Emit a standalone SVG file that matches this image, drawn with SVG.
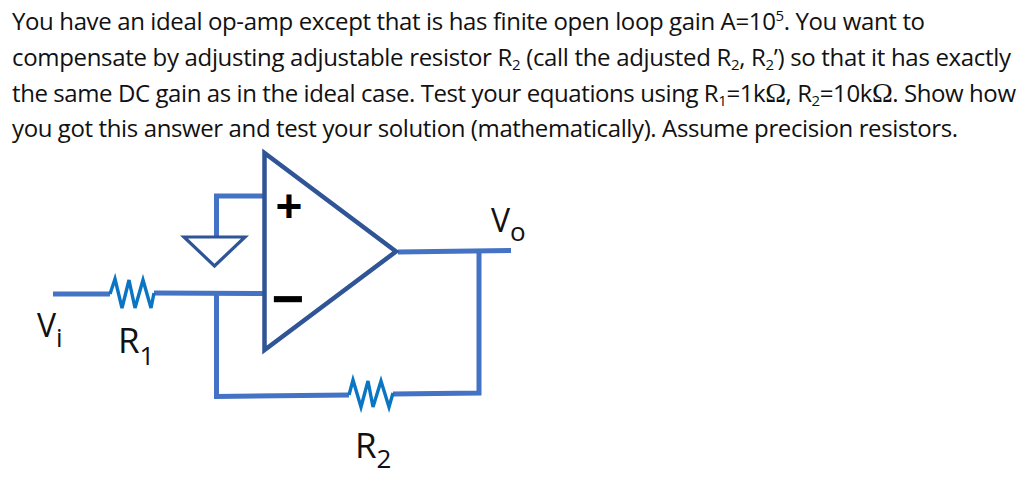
<svg xmlns="http://www.w3.org/2000/svg" width="1024" height="479" viewBox="0 0 1024 479">
<style>
text{font-family:"Open Sans","Lato","Liberation Sans",sans-serif;fill:#111;font-variant-ligatures:none}
.q{font-size:24px}
.l{font-size:35px}
.v{font-size:32px}
.s{font-size:26px}
.z{font-size:15px}
.om{font-family:"Liberation Serif",serif;font-size:28px}
.w{fill:none;stroke:#4472c4;stroke-width:5;stroke-linecap:butt;stroke-linejoin:miter}
.r{fill:none;stroke:#0a75c2;stroke-width:3.4;stroke-linejoin:miter}
.o{fill:none;stroke:#2f5597;stroke-width:4.5;stroke-linejoin:miter}
.g{fill:none;stroke:#2f5597;stroke-width:3.2;stroke-linejoin:miter}
.sign{font-family:"Liberation Sans",sans-serif;font-weight:bold;fill:#000}
</style>
<rect width="1024" height="479" fill="#fff"/>
<g id="question">
<text class="q" x="12" y="30" textLength="913" lengthAdjust="spacing">You have an ideal op-amp except that is has finite open loop gain A=10<tspan class="z" dy="-9">5</tspan><tspan dy="9">. You want to</tspan></text>
<text class="q" x="12" y="66" textLength="999" lengthAdjust="spacing">compensate by adjusting adjustable resistor R<tspan class="z" dy="4">2</tspan><tspan dy="-4"> (call the adjusted R</tspan><tspan class="z" dy="4">2</tspan><tspan dy="-4">, R</tspan><tspan class="z" dy="4">2</tspan><tspan dy="-4">’) so that it has exactly</tspan></text>
<text class="q" x="12" y="102" textLength="1004" lengthAdjust="spacing">the same DC gain as in the ideal case. Test your equations using R<tspan class="z" dy="4">1</tspan><tspan dy="-4">=1k</tspan><tspan class="om">Ω</tspan>, R<tspan class="z" dy="4">2</tspan><tspan dy="-4">=10k</tspan><tspan class="om">Ω</tspan>. Show how</text>
<text class="q" x="12" y="137" textLength="946" lengthAdjust="spacing">you got this answer and test your solution (mathematically). Assume precision resistors.</text>
</g>
<g id="connectors">
<path class="w" d="M264 196H216.500V237"/>
<path class="w" d="M53 294H110"/>
<path class="w" d="M154 293L264 293.500"/>
<path class="w" d="M216.500 293V396.500L349 395"/>
<path class="w" d="M393 394L479 393V251"/>
<path class="w" d="M398 252L511 250.500"/>
</g>
<g id="opamp">
<path class="o" d="M264.500 153V350L396 251.500Z"/>
<text class="sign" x="289" y="222" text-anchor="middle" font-size="46">+</text>
<text class="sign" x="288" y="318" text-anchor="middle" font-size="56">−</text>
</g>
<g id="ground">
<path class="g" d="M184 237H245L214.500 266Z"/>
</g>
<g id="r1">
<path class="r" d="M110 294L115 279L122 308L129 280L135 308L143 280L151 308L154 293"/>
<text class="l" x="118" y="353">R<tspan class="s" dy="12">1</tspan></text>
</g>
<g id="r2">
<path class="r" d="M349 395L353 380L361 407L368 381L373 407L381 381L389 407L393 393"/>
<text class="l" x="355" y="458">R<tspan class="s" dy="10">2</tspan></text>
</g>
<g id="vi">
<text class="v" x="37" y="337">V<tspan class="s" dy="10">i</tspan></text>
</g>
<g id="vo">
<text class="v" x="491" y="232">V<tspan class="s" dy="9">o</tspan></text>
</g>
</svg>
